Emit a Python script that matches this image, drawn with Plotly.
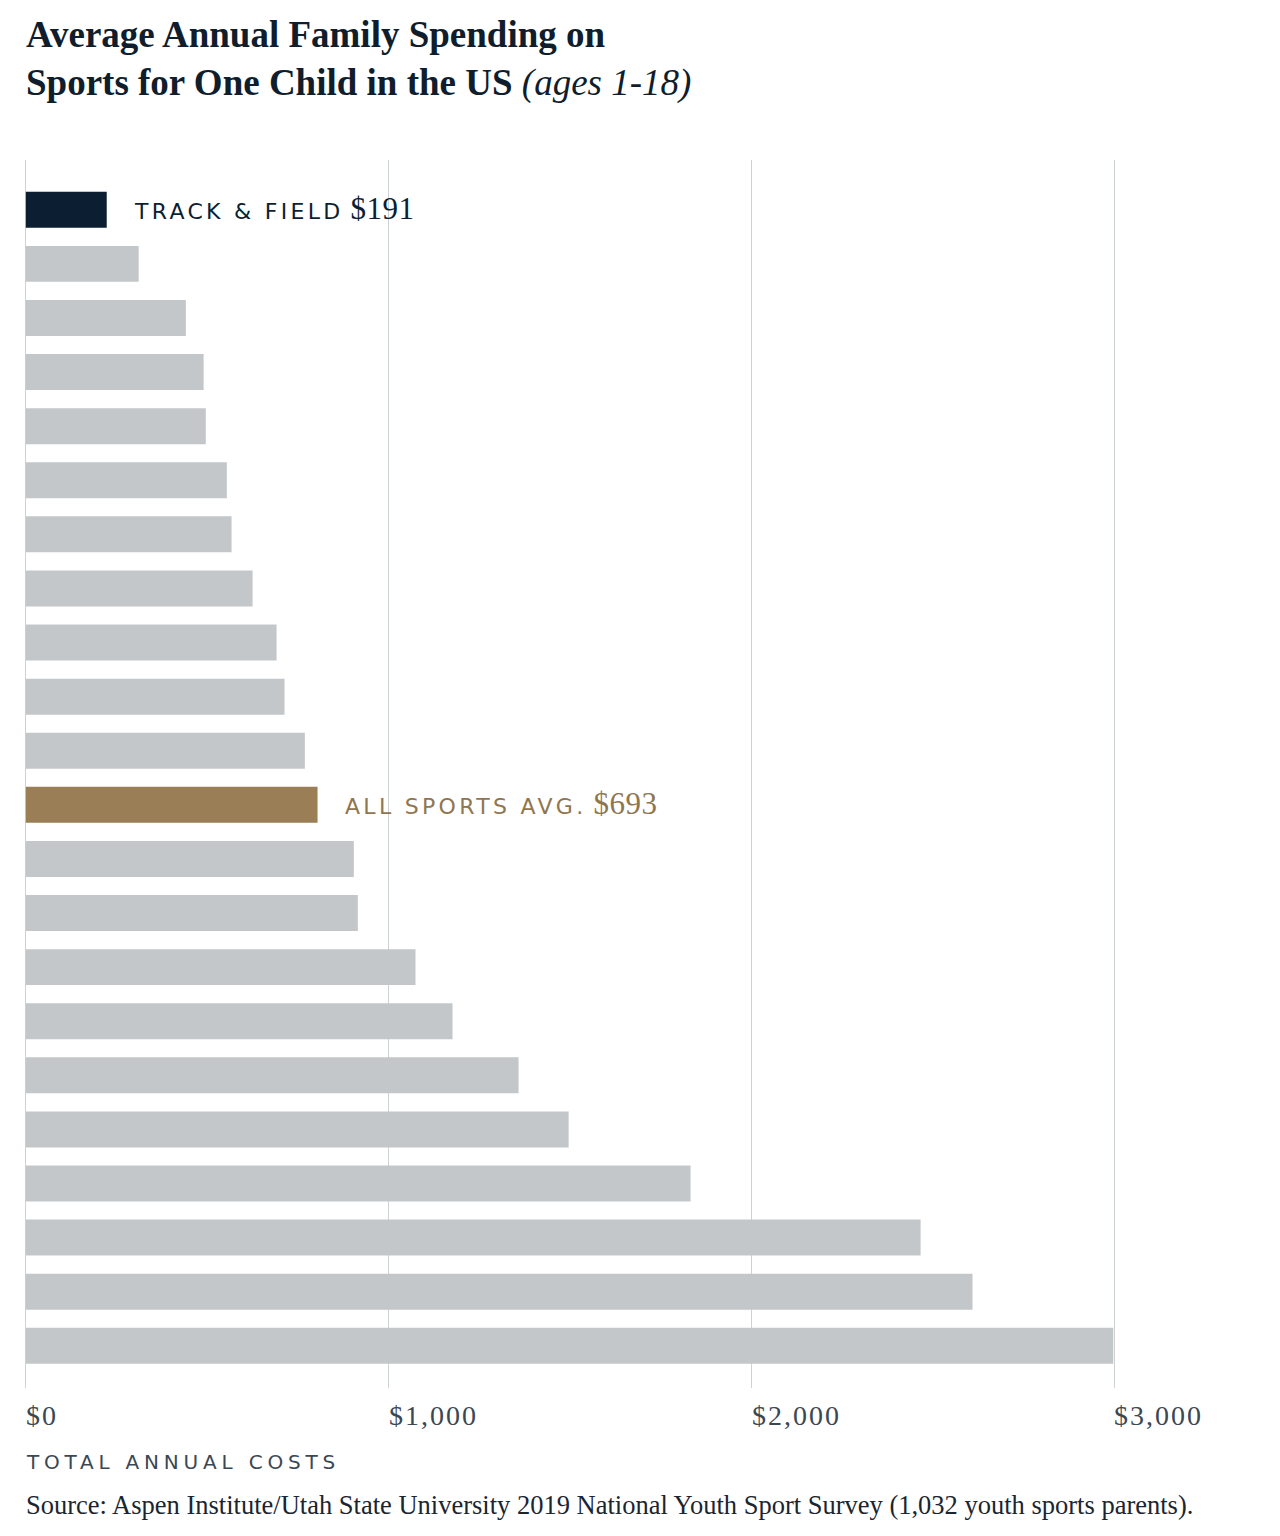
import plotly.graph_objects as go

# Bar lengths as drawn (in dollars on the axis scale)
bar_values = [223, 311, 441, 490, 496, 554, 567, 625, 691, 713, 769, 804,
              904, 915, 1074, 1176, 1358, 1496, 1832, 2466, 2609, 2997]
bar_kinds = ["highlight", "other", "other", "other", "other", "other", "other", "other",
             "other", "other", "other", "avg", "other", "other", "other", "other",
             "other", "other", "other", "other", "other", "other"]
label_names = {0: "TRACK &amp; FIELD", 11: "ALL SPORTS AVG."}
label_amounts = {0: "$191", 11: "$693"}
tick_vals = [0, 1000, 2000, 3000]
tick_text = ["$0", "$1,000", "$2,000", "$3,000"]

colors = {"highlight": "#0c1e31", "avg": "#9a7f56", "other": "#c3c7c9"}
label_colors = {0: "#0c1e31", 11: "#8f7650"}

positions = list(range(len(bar_values)))

PLOT_H = 1536 - 160 - 148

fig = go.Figure()
fig.add_trace(go.Bar(
    x=bar_values, y=positions, orientation="h",
    marker=dict(color=[colors[k] for k in bar_kinds], line=dict(width=0)),
    width=0.665, hoverinfo="x",
))

for i, name in label_names.items():
    fig.add_annotation(
        x=bar_values[i], y=positions[i], xref="x", yref="y",
        xanchor="left", yanchor="middle", xshift=25, yshift=1, showarrow=False,
        text=(f"<span style='font-family:DejaVu Sans; font-size:22px; letter-spacing:3.3px'>{name}</span> "
              f"<span style='font-family:Liberation Serif; font-size:31px; letter-spacing:0.5px'>{label_amounts[i]}</span>"),
        font=dict(color=label_colors[i], family="DejaVu Sans", size=22),
    )

for v, t in zip(tick_vals, tick_text):
    fig.add_annotation(
        x=v, y=0, xref="x", yref="paper", xanchor="left", yanchor="top",
        yshift=-10, xshift=-2, showarrow=False,
        text=f"<span style='letter-spacing:2px'>{t}</span>",
        font=dict(family="Liberation Serif", size=28, color="#3b4853"),
    )

fig.add_annotation(
    x=0, y=0, xref="paper", yref="paper", xanchor="left", yanchor="top",
    yshift=-60, xshift=0, showarrow=False,
    text="<span style='letter-spacing:4.8px'>TOTAL ANNUAL COSTS</span>",
    font=dict(family="DejaVu Sans", size=20, color="#3b4853"),
)
fig.add_annotation(
    x=0, y=0, xref="paper", yref="paper", xanchor="left", yanchor="top",
    yshift=-100, showarrow=False,
    text="Source: Aspen Institute/Utah State University 2019 National Youth Sport Survey (1,032 youth sports parents).",
    font=dict(family="Liberation Serif", size=26.5, color="#1a2530"),
)

# Title
fig.add_annotation(
    x=0, y=1 + 148 / PLOT_H, xref="paper", yref="paper", xanchor="left", yanchor="top",
    xshift=0, showarrow=False, align="left",
    text="<b>Average Annual Family Spending on<br>Sports for One Child in the US</b> <i>(ages 1-18)</i>",
    font=dict(family="Liberation Serif", size=37, color="#0f1d2c"),
)

fig.update_layout(
    width=1280, height=1536,
    margin=dict(l=24, r=162, t=160, b=148),
    paper_bgcolor="white", plot_bgcolor="white",
    showlegend=False,
    xaxis=dict(
        range=[-5, 3010], tickvals=tick_vals, showticklabels=False,
        showgrid=True, gridcolor="#cdd2d5", gridwidth=1,
        zeroline=False, showline=False, ticks="",
    ),
    yaxis=dict(
        range=[21.78, -0.92], showticklabels=False, showgrid=False,
        zeroline=False, showline=False, ticks="",
    ),
    bargap=0.335,
)

fig.write_html("out.html")
